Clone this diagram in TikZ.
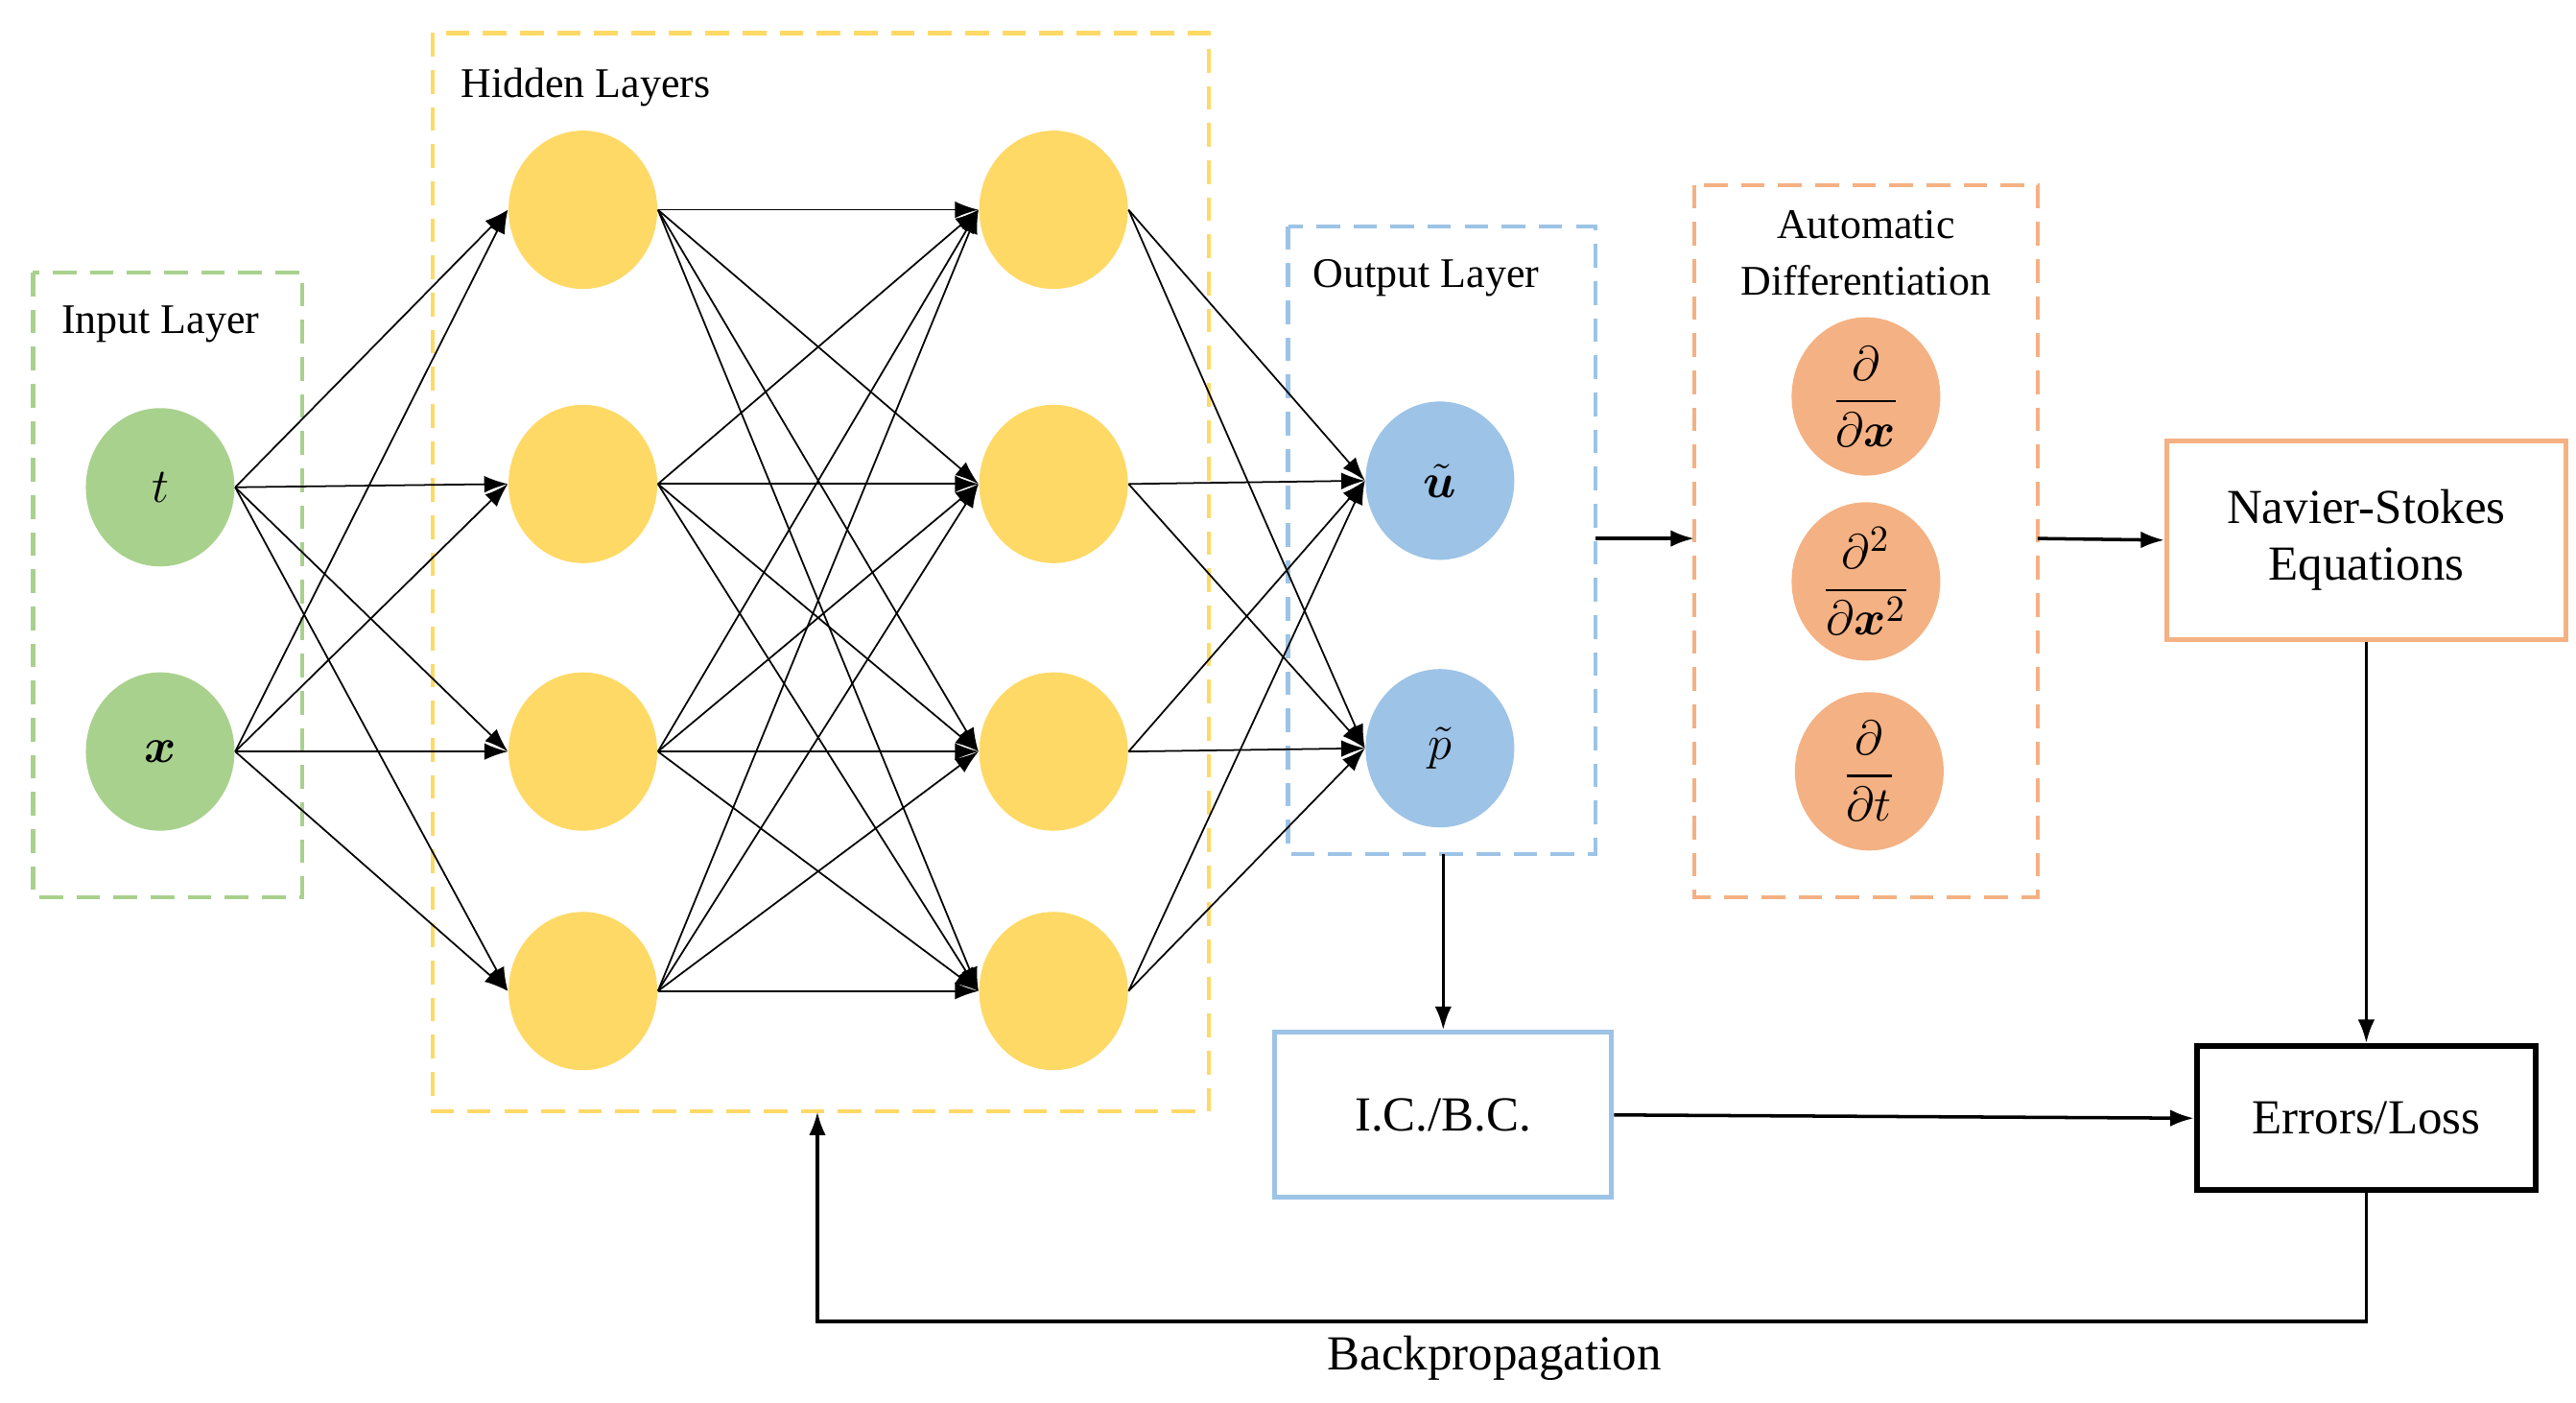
\documentclass[tikz,border=0pt]{standalone}
\usepackage{amsmath,bm}
\usepackage{fontspec}
\setmainfont{Liberation Serif}
\usetikzlibrary{arrows.meta,shapes.geometric}
\tikzset{>=Latex}
\definecolor{cgreen}{HTML}{A9D18E}
\definecolor{cyellow}{HTML}{FFD966}
\definecolor{cblue}{HTML}{9DC3E6}
\definecolor{corange}{HTML}{F4B183}
\tikzset{
  neuron/.style={ellipse, draw=none, minimum width=1.55cm, minimum height=1.65cm, inner sep=0pt, font=\fontsize{15}{17}\selectfont},
  layer/.style={dashed, line width=1.2pt, dash pattern=on 7pt off 4pt},
  lbl/.style={font=\fontsize{12.5}{15}\selectfont, align=center},
  blk/.style={draw, line width=1.4pt, font=\fontsize{14.5}{17}\selectfont, align=center, inner sep=0pt},
  conn/.style={-{Latex[length=7pt,width=5pt]}, line width=0.5pt}
}
\begin{document}
\begin{tikzpicture}[x=0.01721cm, y=-0.01721cm]
  \useasboundingbox (0,0) rectangle (1560,849);
  % layer frames
  \draw[layer, cgreen] (20,165) rectangle (183,543);
  \draw[layer, cyellow] (262,20) rectangle (732,673);
  \draw[layer, cblue] (780,137) rectangle (966,517);
  \draw[layer, corange] (1026,112) rectangle (1234,543);
  \node[lbl, anchor=north west] at (30,178) {Input Layer};
  \node[lbl, anchor=north west] at (272,34) {Hidden Layers};
  \node[lbl, anchor=north west] at (788,150) {Output Layer};
  \node[lbl, anchor=north, font=\fontsize{12.5}{17}\selectfont] at (1130,120) {Automatic\\Differentiation};
  % neurons
  \node[neuron, fill=cgreen] (i1) at (97,295) {$t$};
  \node[neuron, fill=cgreen] (i2) at (97,455) {$\bm{x}$};
  \foreach \y [count=\k] in {127,293,455,600} {
    \node[neuron, fill=cyellow] (a\k) at (353,\y) {};
    \node[neuron, fill=cyellow] (b\k) at (638,\y) {};
  }
  \node[neuron, fill=cblue] (o1) at (872,291) {$\tilde{\bm{u}}$};
  \node[neuron, fill=cblue] (o2) at (872,453) {$\tilde{p}$};
  \node[neuron, fill=corange] (d1) at (1130,240) {$\dfrac{\partial}{\partial \bm{x}}$};
  \node[neuron, fill=corange] (d2) at (1130,352) {$\dfrac{\partial^2}{\partial \bm{x}^2}$};
  \node[neuron, fill=corange] (d3) at (1132,467) {$\dfrac{\partial}{\partial t}$};
  % connections
  \foreach \i in {1,2}
    \foreach \j in {1,...,4}
      \draw[conn] (i\i.east) -- (a\j.west);
  \foreach \i in {1,...,4}
    \foreach \j in {1,...,4}
      \draw[conn] (a\i.east) -- (b\j.west);
  \foreach \i in {1,...,4}
    \foreach \j in {1,2}
      \draw[conn] (b\i.east) -- (o\j.west);
  % blocks
  \node[blk, corange, text=black, minimum width=4.16cm, minimum height=2.07cm] (ns) at (1433,327) {Navier-Stokes\\Equations};
  \node[blk, cblue, text=black, minimum width=3.51cm, minimum height=1.72cm] (ic) at (874,675) {I.C./B.C.};
  \node[blk, black, line width=1.8pt, minimum width=3.53cm, minimum height=1.5cm] (err) at (1433,677) {Errors/Loss};
  \coordinate (outr) at (966,326);
  \coordinate (adl) at (1026,326);
  \coordinate (adr) at (1234,326);
  \coordinate (outb) at (874,517);
  \coordinate (hidb) at (495,673);
  \coordinate (bl) at (495,800);
  \coordinate (br) at (1433,800);
  \draw[conn, line width=1pt] (outr) -- (adl);
  \draw[conn, line width=1pt] (adr) -- (ns.west);
  \draw[conn, line width=1pt] (outb) -- (ic.north);
  \draw[conn, line width=1pt] (ic.east) -- (err.west);
  \draw[conn, line width=1pt] (ns.south) -- (err.north);
  \draw[conn, line width=1pt] (err.south) -- (br) -- (bl) -- (hidb);
  \node[lbl, font=\fontsize{14.5}{17}\selectfont] (bp) at (905,822) {Backpropagation};
\end{tikzpicture}
\end{document}
